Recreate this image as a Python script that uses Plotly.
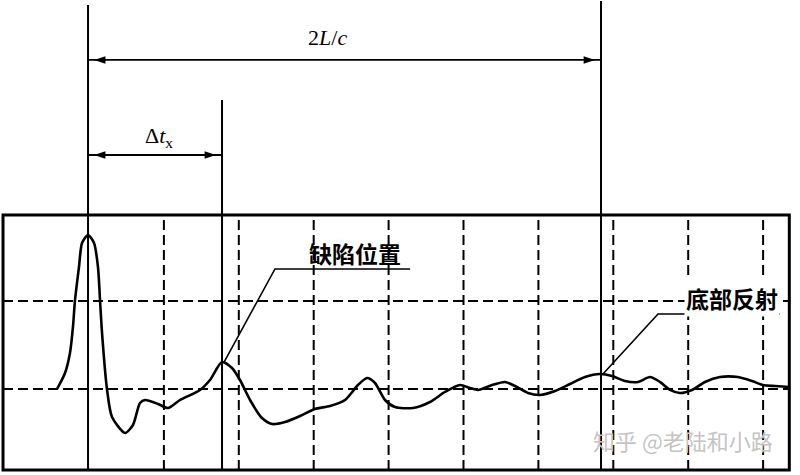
import plotly.graph_objects as go

# ---- data (time in grid divisions, amplitude in grid divisions) ----
t_signal = [-0.427, -0.320, -0.254, -0.214, -0.187, -0.134, -0.093, -0.013, 0.067, 0.120,
            0.147, 0.174, 0.240, 0.307, 0.481, 0.587, 0.681, 0.748, 0.921, 1.055,
            1.215, 1.482, 1.615, 1.776, 1.909, 2.016, 2.150, 2.310, 2.443, 2.617,
            2.817, 3.017, 3.218, 3.418, 3.591, 3.712, 3.818, 3.952, 4.085, 4.326,
            4.553, 4.753, 4.953, 5.087, 5.194, 5.381, 5.554, 5.688, 5.861, 6.021,
            6.222, 6.422, 6.622, 6.822, 6.983, 7.156, 7.330, 7.490, 7.623, 7.757,
            7.891, 8.051, 8.224, 8.424, 8.665, 8.852, 8.999, 9.159, 9.35]
a_signal = [0.0, 0.182, 0.409, 0.705, 1.011, 1.386, 1.659, 1.75, 1.659, 1.386,
            1.011, 0.636, 0.0, -0.318, -0.5, -0.409, -0.159, -0.125, -0.170, -0.216,
            -0.125, -0.011, 0.102, 0.307, 0.239, 0.102, -0.125, -0.330, -0.398, -0.375,
            -0.307, -0.227, -0.193, -0.125, 0.045, 0.125, 0.068, -0.125, -0.205, -0.216,
            -0.148, -0.034, 0.045, 0.011, -0.011, 0.045, 0.080, 0.034, -0.045, -0.068,
            -0.023, 0.057, 0.136, 0.170, 0.148, 0.091, 0.080, 0.136, 0.080, -0.011,
            -0.045, -0.011, 0.080, 0.136, 0.136, 0.091, 0.045, 0.034, 0.023]

grid_x = [1, 2, 3, 4, 5, 6, 7, 8, 9]
grid_y = [0, 1]
box_x = [-1.148, 9.35]
box_y = [-0.920, 1.977]

t_launch = -0.013
t_defect = 1.776
t_bottom = 6.836
marker_tops = [4.364, 3.284, 4.41]

arrow_2lc_y = 3.739
arrow_dt_y = 2.659

defect_leader_x = [1.80, 2.483, 4.287]
defect_leader_y = [0.30, 1.364, 1.364]
bottom_leader_x = [6.862, 7.597, 9.226]
bottom_leader_y = [0.170, 0.852, 0.852]

label_defect = "缺陷位置"
label_bottom = "底部反射"
label_2lc = "2<i>L</i>/<i>c</i>"
label_dt = "Δ<i>t</i><sub>x</sub>"
watermark = "知乎 @老陆和小路"

fig = go.Figure()

# grid (dashed)
gx, gy = [], []
for x in grid_x:
    gx += [x, x, None]
    gy += [box_y[0], box_y[1], None]
fig.add_trace(go.Scatter(x=gx, y=gy, mode="lines",
                         line=dict(color="black", width=2, dash="10px,5px"),
                         hoverinfo="skip", showlegend=False))
hx, hy = [], []
for y in grid_y:
    hx += [box_x[0], box_x[1], None]
    hy += [y, y, None]
fig.add_trace(go.Scatter(x=hx, y=hy, mode="lines",
                         line=dict(color="black", width=2, dash="10px,5px"),
                         hoverinfo="skip", showlegend=False))

# frame of the oscilloscope screen
fig.add_shape(type="rect", xref="x", yref="y",
              x0=box_x[0], x1=box_x[1], y0=box_y[0], y1=box_y[1],
              line=dict(color="black", width=3), fillcolor="rgba(0,0,0,0)", layer="above")

# marker verticals
vx, vy = [], []
for t, top in zip([t_launch, t_defect, t_bottom], marker_tops):
    vx += [t, t, None]
    vy += [top, box_y[0], None]
fig.add_trace(go.Scatter(x=vx, y=vy, mode="lines",
                         line=dict(color="black", width=2),
                         hoverinfo="skip", showlegend=False))

# signal
fig.add_trace(go.Scatter(x=t_signal, y=a_signal, mode="lines",
                         line=dict(color="black", width=2.6, shape="spline", smoothing=0.7),
                         hoverinfo="skip", showlegend=False))

# leaders
for lx, ly in [(defect_leader_x, defect_leader_y), (bottom_leader_x, bottom_leader_y)]:
    fig.add_trace(go.Scatter(x=lx, y=ly, mode="lines",
                             line=dict(color="black", width=1.6),
                             hoverinfo="skip", showlegend=False))

# dimension arrows (double-headed)
for y_arr, x_end in [(arrow_2lc_y, t_bottom), (arrow_dt_y, t_defect)]:
    fig.add_trace(go.Scatter(x=[t_launch, x_end], y=[y_arr, y_arr], mode="lines+markers",
                             line=dict(color="black", width=1.8),
                             marker=dict(symbol="arrow", size=12, angle=[270, 90],
                                         standoff=6, color="black",
                                         line=dict(width=0)),
                             hoverinfo="skip", showlegend=False))

fig.add_annotation(x=3.19, y=3.99, text=label_2lc, showarrow=False,
                   font=dict(family="Liberation Serif", size=22, color="black"))
fig.add_annotation(x=0.93, y=2.86, text=label_dt, showarrow=False,
                   font=dict(family="Liberation Serif", size=22, color="black"))
fig.add_annotation(x=3.55, y=1.545, text=label_defect, showarrow=False,
                   font=dict(family="Noto Sans CJK SC", size=23, color="black", weight="bold"))
fig.add_annotation(x=8.585, y=1.034, text=label_bottom, showarrow=False,
                   bgcolor="white",
                   font=dict(family="Noto Sans CJK SC", size=23, color="black", weight="bold"))
fig.add_annotation(x=7.93, y=-0.58, text=watermark, showarrow=False,
                   font=dict(family="Noto Sans CJK SC", size=22, color="#c4c4c4"))

fig.update_layout(width=800, height=475, autosize=False,
                  margin=dict(l=0, r=0, t=0, b=0),
                  paper_bgcolor="white", plot_bgcolor="white",
                  xaxis=dict(range=[-1.1883, 9.4927], visible=False, fixedrange=True),
                  yaxis=dict(range=[-0.9773, 4.4205], visible=False, fixedrange=True))

# remove the page's default 8px body margin so the figure fills the window
fig.write_html("out.html", config={"displayModeBar": False},
               post_script="document.body.style.margin='0';document.body.style.overflow='hidden';")
